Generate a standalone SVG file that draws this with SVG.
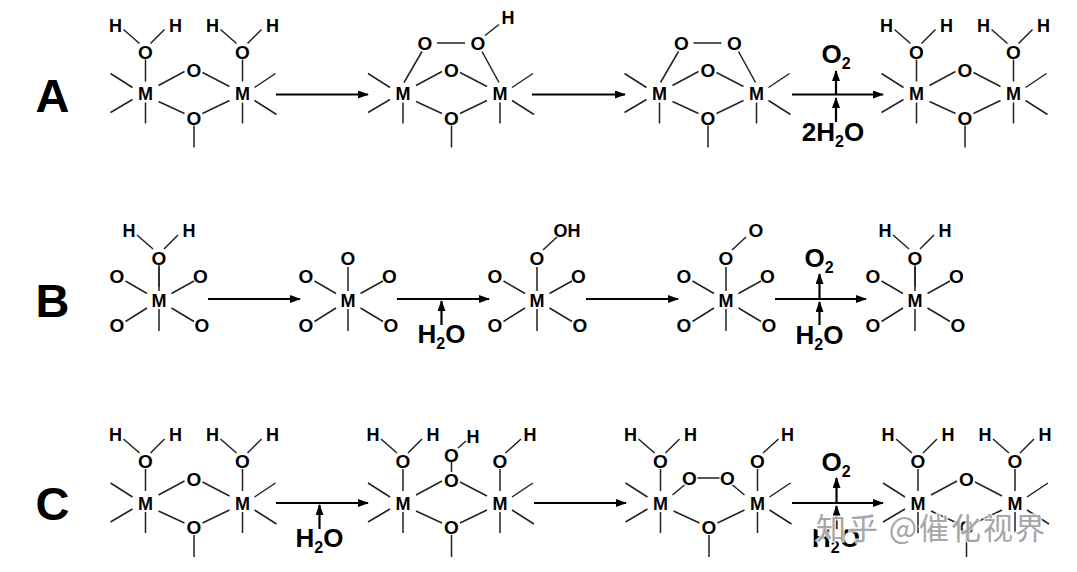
<svg xmlns="http://www.w3.org/2000/svg" width="1077" height="572" viewBox="0 0 1077 572">
<style>
text{font-family:"Liberation Sans",Arial,sans-serif;font-weight:700;fill:#000}
.a{font-size:19px;text-anchor:middle}
.m{font-size:18px;text-anchor:middle}
.l{font-size:47px;text-anchor:middle}
.r{font-size:26px;text-anchor:middle}
.s{font-size:16px}
.b{fill:none;stroke:#222;stroke-width:1.5}
.ar{fill:none;stroke:#000;stroke-width:2.2}
.wm{font-family:"Noto Sans CJK SC","Noto Sans",sans-serif;font-weight:400;font-size:30px;letter-spacing:2px;fill:#a6a6a6;stroke:#fff;stroke-opacity:.8;stroke-width:3;paint-order:stroke}
</style>
<defs>
<marker id="h" markerUnits="userSpaceOnUse" markerWidth="11" markerHeight="8" refX="10" refY="4" orient="auto"><path d="M0 0L11 4L0 8z" fill="#000"/></marker>
<path id="core" class="b" d="M-35-20L-13-6M-35 19L-13 6M0 9V30M13 8L39 20M57 20L84 7M48.500 32V54M97 9V30M109-6L130-20M109 7L131 21"/>
<path id="ub" class="b" d="M13-8L39-22M57-21L84-7"/>
<path id="w" class="b" d="M0-34V-12M-22-64L-6-50M19-64L5-50"/>
<path id="mono" class="b" d="M-33.500-19L-12-6.500M35-19L12.500-6.500M-33.500 21.500L-12 8M35 21.500L12.500 8M0 9V31M0-33V-9"/>
</defs>
<g id="labels"><text class="l" x="52.500" y="112">A</text><text class="l" x="52.500" y="317">B</text><text class="l" x="52.500" y="520">C</text></g>
<g id="connectors">
<path class="ar" marker-end="url(#h)" d="M276 94.500H368"/>
<path class="ar" marker-end="url(#h)" d="M532 94.500H625"/>
<path class="ar" marker-end="url(#h)" d="M792 94.500H883"/>
<path class="ar" marker-end="url(#h)" d="M836 95V71"/>
<path class="ar" marker-end="url(#h)" d="M836 122V98"/>
<path class="ar" marker-end="url(#h)" d="M208 299H300"/>
<path class="ar" marker-end="url(#h)" d="M397 299H489"/>
<path class="ar" marker-end="url(#h)" d="M441.500 325V301"/>
<path class="ar" marker-end="url(#h)" d="M586 299H678"/>
<path class="ar" marker-end="url(#h)" d="M775 299H866"/>
<path class="ar" marker-end="url(#h)" d="M819.500 299V274"/>
<path class="ar" marker-end="url(#h)" d="M819.500 325V302"/>
<path class="ar" marker-end="url(#h)" d="M276 503H368"/>
<path class="ar" marker-end="url(#h)" d="M319.500 529V505"/>
<path class="ar" marker-end="url(#h)" d="M534 503H626"/>
<path class="ar" marker-end="url(#h)" d="M792 503H883"/>
<path class="ar" marker-end="url(#h)" d="M836.500 503V478"/>
<path class="ar" marker-end="url(#h)" d="M836.500 529V506"/>
</g>
<g id="reagents">
<text class="r" x="836" y="63">O<tspan class="s" dy="6">2</tspan></text>
<text class="r" x="833" y="141">2H<tspan class="s" dy="6">2</tspan><tspan dy="-6">O</tspan></text>
<text class="r" x="441.500" y="343">H<tspan class="s" dy="6">2</tspan><tspan dy="-6">O</tspan></text>
<text class="r" x="819" y="267">O<tspan class="s" dy="6">2</tspan></text>
<text class="r" x="819.500" y="344">H<tspan class="s" dy="6">2</tspan><tspan dy="-6">O</tspan></text>
<text class="r" x="319.500" y="547">H<tspan class="s" dy="6">2</tspan><tspan dy="-6">O</tspan></text>
<text class="r" x="836" y="471">O<tspan class="s" dy="6">2</tspan></text>
<text class="r" x="836" y="547">H<tspan class="s" dy="6">2</tspan><tspan dy="-6">O</tspan></text>
</g>
<g id="A1" transform="translate(145.500 93.500)">
<use href="#core"/><use href="#ub"/><use href="#w"/><use href="#w" x="97"/>
<text class="m" y="6.500">M</text><text class="m" x="97" y="6.500">M</text><text class="a" y="-35">O</text><text class="a" x="97" y="-35">O</text><text class="a" x="48.500" y="-17">O</text><text class="a" x="48.500" y="31">O</text>
<text class="m" x="-30" y="-62">H</text><text class="m" x="30" y="-62">H</text><text class="m" x="67" y="-62">H</text><text class="m" x="127" y="-62">H</text>
</g>
<g id="A2" transform="translate(403 93.500)">
<use href="#core"/><use href="#ub"/>
<path class="b" d="M1-11L19-42M96-11L79-42M34-50.500H62M82-58L96-69"/>
<text class="m" y="6.500">M</text><text class="m" x="97" y="6.500">M</text><text class="a" x="22" y="-44">O</text><text class="a" x="75" y="-44">O</text><text class="a" x="48.500" y="-17">O</text><text class="a" x="48.500" y="31">O</text>
<text class="m" x="105" y="-70">H</text>
</g>
<g id="A3" transform="translate(659.500 93.500)">
<use href="#core"/><use href="#ub"/>
<path class="b" d="M1-11L19-42M96-11L79-42M34-50.500H62"/>
<text class="m" y="6.500">M</text><text class="m" x="97" y="6.500">M</text><text class="a" x="22" y="-44">O</text><text class="a" x="75" y="-44">O</text><text class="a" x="48.500" y="-17">O</text><text class="a" x="48.500" y="31">O</text>
</g>
<g id="A4" transform="translate(916.500 93.500)">
<use href="#core"/><use href="#ub"/><use href="#w"/><use href="#w" x="97"/>
<text class="m" y="6.500">M</text><text class="m" x="97" y="6.500">M</text><text class="a" y="-35">O</text><text class="a" x="97" y="-35">O</text><text class="a" x="48.500" y="-17">O</text><text class="a" x="48.500" y="31">O</text>
<text class="m" x="-30" y="-62">H</text><text class="m" x="30" y="-62">H</text><text class="m" x="67" y="-62">H</text><text class="m" x="127" y="-62">H</text>
</g>
<g id="B1" transform="translate(159 300)">
<use href="#mono"/><use href="#w" y="-1"/>
<text class="m" y="6.500">M</text><text class="a" y="-35">O</text><text class="a" x="-42" y="-17">O</text><text class="a" x="41.500" y="-17">O</text><text class="a" x="-42" y="31.500">O</text><text class="a" x="43" y="31.500">O</text>
<text class="m" x="-30" y="-63">H</text><text class="m" x="30" y="-63">H</text>
</g>
<g id="B2" transform="translate(348 300)">
<use href="#mono"/>
<text class="m" y="6.500">M</text><text class="a" y="-35">O</text><text class="a" x="-42" y="-17">O</text><text class="a" x="41.500" y="-17">O</text><text class="a" x="-42" y="31.500">O</text><text class="a" x="43" y="31.500">O</text>
</g>
<g id="B3" transform="translate(537 300)">
<use href="#mono"/><path class="b" d="M6-50L20-63"/>
<text class="m" y="6.500">M</text><text class="a" y="-35">O</text><text class="a" x="-42" y="-17">O</text><text class="a" x="41.500" y="-17">O</text><text class="a" x="-42" y="31.500">O</text><text class="a" x="43" y="31.500">O</text>
<text class="m" x="30" y="-63">OH</text>
</g>
<g id="B4" transform="translate(726 300)">
<use href="#mono"/><path class="b" d="M6-50L20-63"/>
<text class="m" y="6.500">M</text><text class="a" y="-35">O</text><text class="a" x="-42" y="-17">O</text><text class="a" x="41.500" y="-17">O</text><text class="a" x="-42" y="31.500">O</text><text class="a" x="43" y="31.500">O</text>
<text class="a" x="30" y="-63">O</text>
</g>
<g id="B5" transform="translate(915 300)">
<use href="#mono"/><use href="#w" y="-1"/>
<text class="m" y="6.500">M</text><text class="a" y="-35">O</text><text class="a" x="-42" y="-17">O</text><text class="a" x="41.500" y="-17">O</text><text class="a" x="-42" y="31.500">O</text><text class="a" x="43" y="31.500">O</text>
<text class="m" x="-30" y="-63">H</text><text class="m" x="30" y="-63">H</text>
</g>
<g id="C1" transform="translate(145.500 503)">
<use href="#core"/><use href="#ub"/><use href="#w"/><use href="#w" x="97"/>
<text class="m" y="6.500">M</text><text class="m" x="97" y="6.500">M</text><text class="a" y="-35">O</text><text class="a" x="97" y="-35">O</text><text class="a" x="48.500" y="-17">O</text><text class="a" x="48.500" y="31">O</text>
<text class="m" x="-30" y="-62">H</text><text class="m" x="30" y="-62">H</text><text class="m" x="67" y="-62">H</text><text class="m" x="127" y="-62">H</text>
</g>
<g id="C2" transform="translate(403 503)">
<use href="#core"/><use href="#ub"/><use href="#w"/>
<path class="b" d="M97-34V-12M102.500-50L118-64M48.500-41V-31M55-55L63-62"/>
<text class="m" y="6.500">M</text><text class="m" x="97" y="6.500">M</text><text class="a" y="-35">O</text><text class="a" x="97" y="-35">O</text><text class="a" x="48.500" y="-16.500">O</text><text class="a" x="48.500" y="-41.500">O</text><text class="a" x="48.500" y="30.500">O</text>
<text class="m" x="-30" y="-62">H</text><text class="m" x="30" y="-62">H</text><text class="m" x="70" y="-60.500">H</text><text class="m" x="127" y="-62">H</text>
</g>
<g id="C3" transform="translate(660.500 503)">
<use href="#core"/><use href="#w"/>
<path class="b" d="M97-34V-12M102.500-50L118-64M12-8L24-18M72-18L84-8M37-25H59"/>
<text class="m" y="6.500">M</text><text class="m" x="97" y="6.500">M</text><text class="a" y="-35">O</text><text class="a" x="97" y="-35">O</text><text class="a" x="29" y="-18">O</text><text class="a" x="67" y="-18">O</text><text class="a" x="48.500" y="30.500">O</text>
<text class="m" x="-30" y="-62">H</text><text class="m" x="30" y="-62">H</text><text class="m" x="127" y="-62">H</text>
</g>
<g id="C4" transform="translate(918 503)">
<use href="#core"/><use href="#ub"/><use href="#w"/><use href="#w" x="97"/>
<text class="m" y="6.500">M</text><text class="m" x="97" y="6.500">M</text><text class="a" y="-35">O</text><text class="a" x="97" y="-35">O</text><text class="a" x="48.500" y="-17">O</text><text class="a" x="48.500" y="31">O</text>
<text class="m" x="-30" y="-62">H</text><text class="m" x="30" y="-62">H</text><text class="m" x="67" y="-62">H</text><text class="m" x="127" y="-62">H</text>
</g>
<text id="watermark" class="wm" x="816" y="539">知乎 @催化视界</text>
</svg>
